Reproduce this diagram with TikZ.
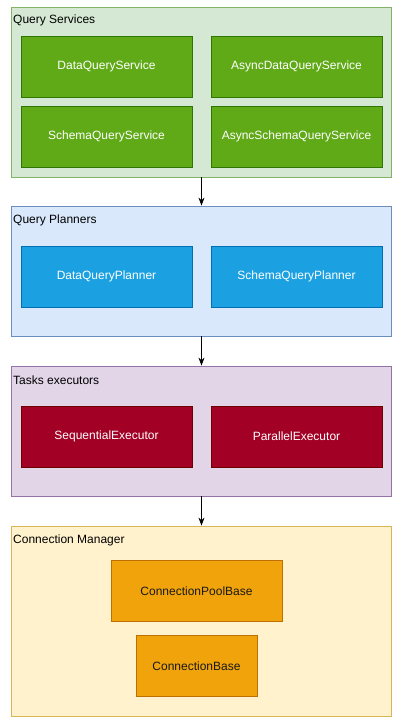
\documentclass[tikz,border=0pt]{standalone}
\usepackage{fontspec}
\setmainfont{Liberation Sans}
\usetikzlibrary{arrows.meta}
\definecolor{gcF}{HTML}{D5E8D4}\definecolor{gcD}{HTML}{82B366}
\definecolor{gbF}{HTML}{60A917}\definecolor{gbD}{HTML}{2D7600}
\definecolor{bcF}{HTML}{DAE8FC}\definecolor{bcD}{HTML}{6C8EBF}
\definecolor{bbF}{HTML}{1BA1E2}\definecolor{bbD}{HTML}{006EAF}
\definecolor{pcF}{HTML}{E1D5E7}\definecolor{pcD}{HTML}{9673A6}
\definecolor{rbF}{HTML}{A20025}\definecolor{rbD}{HTML}{6F0000}
\definecolor{ycF}{HTML}{FFF2CC}\definecolor{ycD}{HTML}{D6B656}
\definecolor{obF}{HTML}{F0A30A}\definecolor{obD}{HTML}{BD7000}
\tikzset{
  container/.style={draw, line width=0.8pt, inner sep=0pt, minimum width=380pt, minimum height=130pt},
  cbox/.style={draw, line width=0.8pt, inner sep=0pt, minimum width=171pt, minimum height=61pt, font=\fontsize{12}{14}\selectfont},
  whitebox/.style={cbox, text=white},
  clabel/.style={anchor=west, inner sep=0pt, font=\fontsize{12}{14}\selectfont, text=black},
  conn/.style={-{Stealth[length=8pt,width=6pt]}, line width=0.8pt, black},
}
\begin{document}
\begin{tikzpicture}[x=1pt,y=-1pt]
\useasboundingbox (0,0) rectangle (402,723);
% containers
\node[container, fill=gcF, draw=gcD, minimum height=170pt] (qs) at (201.5,92) {};
\node[container, fill=bcF, draw=bcD] (qp) at (201.5,271) {};
\node[container, fill=pcF, draw=pcD] (te) at (201.5,431) {};
\node[container, fill=ycF, draw=ycD, minimum height=190pt] (cm) at (201.5,621) {};
% labels
\node[clabel] (lqs) at (13,20) {Query Services};
\node[clabel] (lqp) at (13,220) {Query Planners};
\node[clabel] (lte) at (13,380) {Tasks executors};
\node[clabel] (lcm) at (13,540) {Connection Manager};
% query services
\node[whitebox, fill=gbF, draw=gbD] (dqs) at (106.5,66.5) {DataQueryService};
\node[whitebox, fill=gbF, draw=gbD] (adqs) at (296.5,66.5) {AsyncDataQueryService};
\node[whitebox, fill=gbF, draw=gbD] (sqs) at (106.5,136.5) {SchemaQueryService};
\node[whitebox, fill=gbF, draw=gbD] (asqs) at (296.5,136.5) {AsyncSchemaQueryService};
% planners
\node[whitebox, fill=bbF, draw=bbD] (dqp) at (106.5,276.5) {DataQueryPlanner};
\node[whitebox, fill=bbF, draw=bbD] (sqp) at (296.5,276.5) {SchemaQueryPlanner};
% executors
\node[whitebox, fill=rbF, draw=rbD] (se) at (106.5,436.5) {SequentialExecutor};
\node[whitebox, fill=rbF, draw=rbD] (pe) at (296.5,436.5) {ParallelExecutor};
% connection manager
\node[cbox, fill=obF, draw=obD, text=black!90] (cpb) at (196.5,591) {ConnectionPoolBase};
\node[cbox, fill=obF, draw=obD, text=black!90, minimum width=121pt] (cb) at (196.5,666) {ConnectionBase};
% arrows
\draw[conn] (qs.south) -- (qp.north);
\draw[conn] (qp.south) -- (te.north);
\draw[conn] (te.south) -- (cm.north);
\end{tikzpicture}
\end{document}
